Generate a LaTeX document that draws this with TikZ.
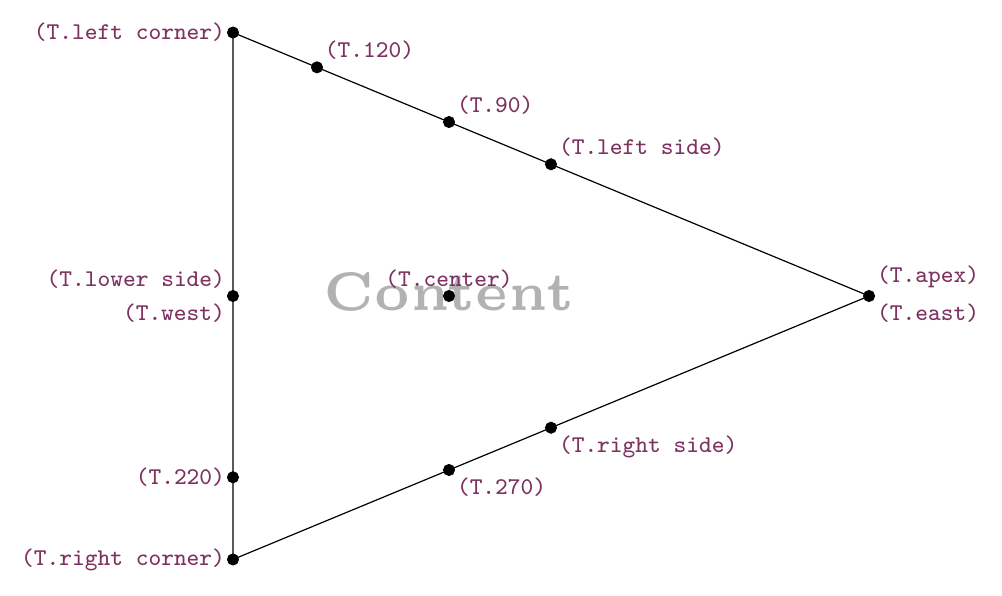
\documentclass[tikz,border=0pt]{standalone}
\usepackage{tikz}
\usepackage{graphicx}
\usetikzlibrary{shapes.geometric}

\definecolor{anchorcol}{RGB}{125,50,95}
\newcommand{\anchortext}[1]{\scalebox{1.5}{#1}}

\tikzset{
    anchorlabel/.style={color=anchorcol, font=\fontsize{8}{9}\selectfont\ttfamily, inner sep=3pt, outer sep=1pt},
}

\begin{document}
\begin{tikzpicture}
            \useasboundingbox (0,0) rectangle (501pt,297.5pt);

            \node[isosceles triangle, isosceles triangle apex angle=45, draw, line width=0.6pt,
                  inner xsep=45.5pt, inner ysep=30.25pt, text height=19pt, text depth=5pt,
                  outer sep=0pt, text=black!30] (T) at (224.5pt,149.5pt)
                  {\resizebox{125pt}{19pt}{\fontsize{5}{6}\selectfont\bfseries Content}};

            \path (T.left corner) node[anchorlabel, left] (lleftcorner) {\anchortext{(T.left corner)}};
            \path (T.120) node[anchorlabel, above right] (l120) {\anchortext{(T.120)}};
            \path (T.90) node[anchorlabel, above right] (l90) {\anchortext{(T.90)}};
            \path (T.left side) node[anchorlabel, above right] (lleftside) {\anchortext{(T.left side)}};

            \path (T.apex) node[anchorlabel, above right] (lapex) {\anchortext{(T.apex)}};
            \path (T.east) node[anchorlabel, below right] (least) {\anchortext{(T.east)}};
            \path (T.center) node[anchorlabel, above] (lcenter) {\anchortext{(T.center)}};
            \path (T.lower side) node[anchorlabel, above left] (llowerside) {\anchortext{(T.lower side)}};
            \path (T.west) node[anchorlabel, below left] (lwest) {\anchortext{(T.west)}};

            \path (T.220) node[anchorlabel, left] (l220) {\anchortext{(T.220)}};
            \path (T.right corner) node[anchorlabel, left] (lrightcorner) {\anchortext{(T.right corner)}};
            \path (T.270) node[anchorlabel, below right] (l270) {\anchortext{(T.270)}};
            \path (T.right side) node[anchorlabel, below right] (lrightside) {\anchortext{(T.right side)}};

            \filldraw (T.left corner) circle (2.8pt);
            \filldraw (T.120) circle (2.8pt);
            \filldraw (T.90) circle (2.8pt);
            \filldraw (T.left side) circle (2.8pt);
            \filldraw (T.apex) circle (2.8pt);
            \filldraw (T.center) circle (2.8pt);
            \filldraw (T.west) circle (2.8pt);
            \filldraw (T.220) circle (2.8pt);
            \filldraw (T.right corner) circle (2.8pt);
            \filldraw (T.270) circle (2.8pt);
            \filldraw (T.right side) circle (2.8pt);
        \end{tikzpicture}
\end{document}
